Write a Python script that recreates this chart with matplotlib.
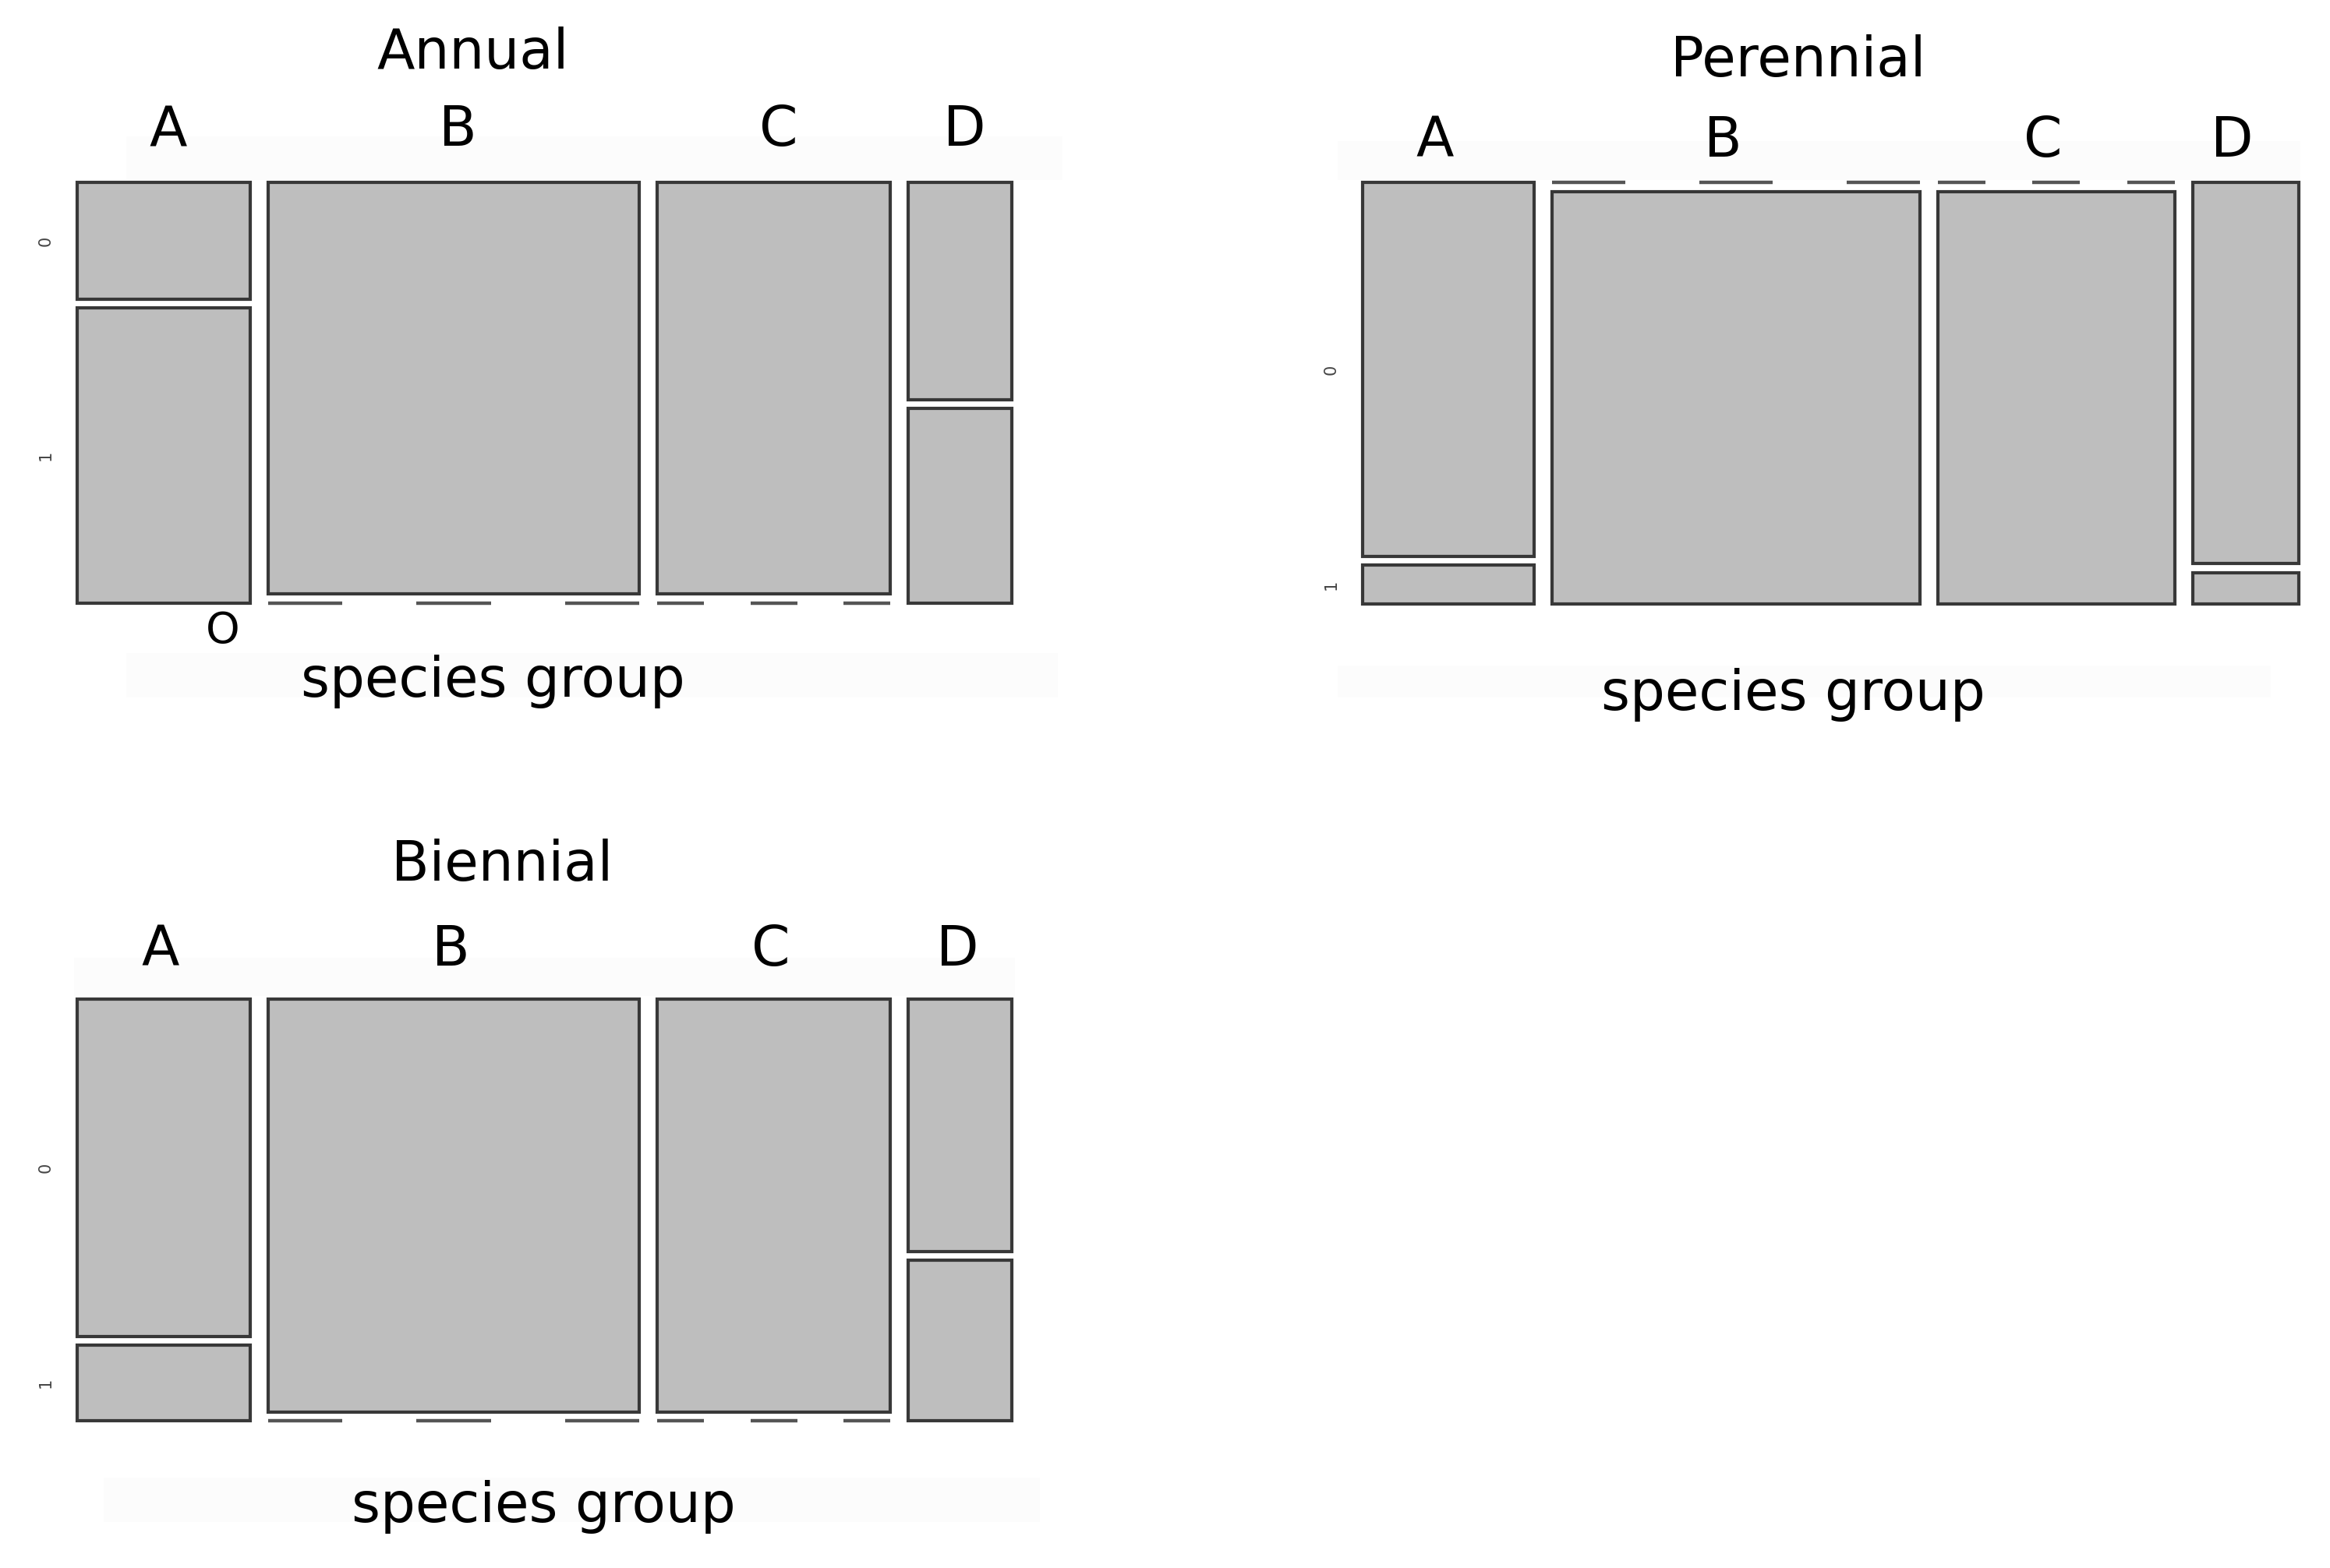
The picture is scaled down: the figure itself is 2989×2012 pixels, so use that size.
import numpy as np
import matplotlib
matplotlib.use("Agg")
import matplotlib.pyplot as plt
from matplotlib.patches import Rectangle

plt.rcParams['font.family'] = ['DejaVu Sans']

# ---- data (counts per species group, response 0 / 1) ----
groups = ["A", "B", "C", "D"]
levels = ["0", "1"]
annual_0 = [17, 129, 81, 19]
annual_1 = [43, 0, 0, 17]
perennial_0 = [19, 0, 0, 12]
perennial_1 = [2, 45, 29, 1]
biennial_0 = [49, 129, 81, 22]
biennial_1 = [11, 0, 0, 14]
panel_titles = ["Annual", "Perennial", "Biennial"]
xlabel_text = "species group"

# ---- layout helpers (reference display coords 1568 x 1056) ----
W, H = 1568.0, 1056.0
def fx(x): return x / W
def fy(y): return 1 - y / H

fig = plt.figure(figsize=(14.945, 10.06), dpi=200)
fig.patch.set_facecolor("white")

FILL = "#bebebe"
EDGE = "#383838"
FS = 25.5
GX = 0.019
GY = 0.021

def band(x0, x1, y0, y1):
    fig.patches.append(Rectangle((fx(x0), fy(y1)), fx(x1) - fx(x0), fy(y0) - fy(y1),
                                 transform=fig.transFigure, facecolor="#fcfcfc",
                                 edgecolor="none", zorder=0))

def panel(c0, c1, box, title, title_xy, lab_y, lab_off, xlab_xy, ytick_x, bands):
    x0, x1, y0, y1 = box
    for b in bands:
        band(*b)
    ax = fig.add_axes([fx(x0), fy(y1), fx(x1) - fx(x0), fy(y0) - fy(y1)])
    ax.set_xlim(0, 1)
    ax.set_ylim(1, 0)
    ax.axis("off")
    c0 = np.asarray(c0, float)
    c1 = np.asarray(c1, float)
    tot = c0 + c1
    n = len(tot)
    widths = (1 - GX * (n - 1)) * tot / tot.sum()
    x = 0.0
    centers = []
    first_cells = None
    for i in range(n):
        w = widths[i]
        ah = 1 - GY
        h0 = ah * c0[i] / tot[i]
        h1 = ah * c1[i] / tot[i]
        if c0[i] > 0:
            ax.add_patch(Rectangle((x, 0), w, h0, facecolor=FILL, edgecolor=EDGE,
                                   lw=1.5, clip_on=False))
        else:
            for k in (0, 2, 4):
                ax.hlines(0, x + k * w / 5, x + (k + 1) * w / 5, color="#555555",
                          lw=1.6, clip_on=False)
        ystart = h0 + GY
        if c1[i] > 0:
            ax.add_patch(Rectangle((x, ystart), w, h1, facecolor=FILL, edgecolor=EDGE,
                                   lw=1.5, clip_on=False))
        else:
            for k in (0, 2, 4):
                ax.hlines(1, x + k * w / 5, x + (k + 1) * w / 5, color="#555555",
                          lw=1.6, clip_on=False)
        if i == 0:
            first_cells = (h0 / 2, ystart + h1 / 2)
        centers.append(x + w / 2)
        x += w + GX
    for g, cx in zip(groups, centers):
        X = fx(x0) + cx * (fx(x1) - fx(x0)) + fx(lab_off)
        fig.text(X, fy(lab_y), g, ha="center", va="center", fontsize=FS)
    for lv, cy in zip(levels, first_cells):
        Y = fy(y0) - cy * (fy(y0) - fy(y1))
        fig.text(fx(ytick_x), Y, lv, ha="center", va="center", fontsize=7.5,
                 rotation=90, color="#444444")
    fig.text(fx(title_xy[0]), fy(title_xy[1]), title, ha="center", va="center", fontsize=FS)
    fig.text(fx(xlab_xy[0]), fy(xlab_xy[1]), xlabel_text, ha="center", va="center", fontsize=FS)
    return ax

panel(annual_0, annual_1, (52, 681, 123, 406), panel_titles[0], (318, 36), 88, 3,
      (332, 459), 31, [(85, 715, 92, 121), (85, 712, 440, 470)])
fig.text(fx(150), fy(425), "O", ha="center", va="center", fontsize=20)

panel(perennial_0, perennial_1, (917, 1547, 123, 407), panel_titles[1], (1210, 41), 95, -9,
      (1207, 468), 896, [(900, 1548, 95, 121), (900, 1528, 448, 470)])

panel(biennial_0, biennial_1, (52, 681, 673, 957), panel_titles[2], (338, 583), 640, -2,
      (366, 1015), 31, [(50, 683, 645, 671), (70, 700, 995, 1025)])

fig.savefig("out.png", dpi=200, facecolor="white")
